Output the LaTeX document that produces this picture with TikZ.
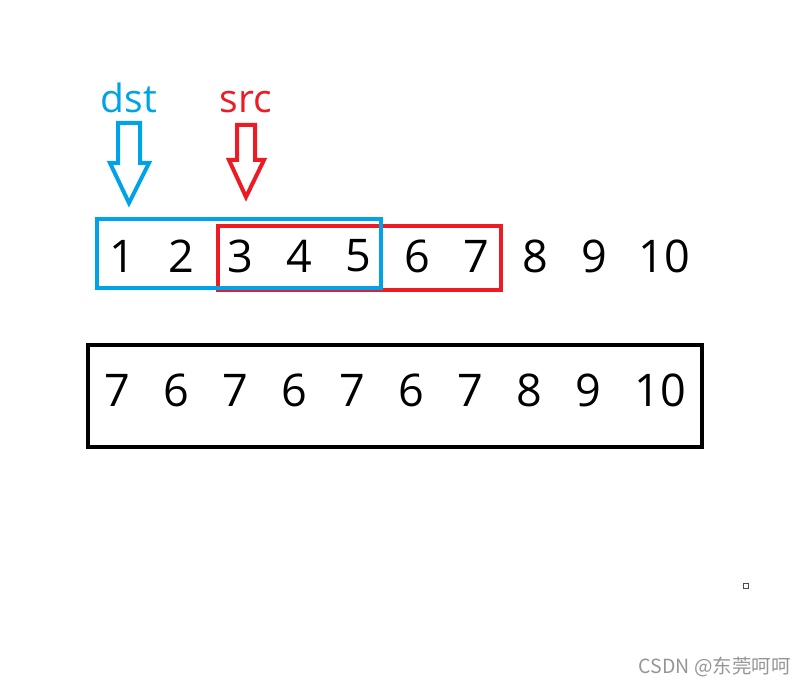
\documentclass[tikz,border=0pt]{standalone}
\usepackage{fontspec}
\setmainfont{Open Sans}
\newfontfamily\cjk{Noto Sans CJK SC}
\definecolor{myblue}{RGB}{0,162,232}
\definecolor{myred}{RGB}{237,28,36}
\definecolor{wmgray}{RGB}{150,150,150}
\begin{document}
\begin{tikzpicture}[x=1pt,y=-1pt,
  num/.style={inner sep=0pt,anchor=center,font=\fontsize{45}{50}\selectfont},
  lbl/.style={inner sep=0pt,anchor=base,font=\fontsize{39}{44}\selectfont},
  frame/.style={line width=4pt},
  arr/.style={line width=4pt,line join=miter}]
\useasboundingbox (0,0) rectangle (807,687);
% labels
\node[lbl,text=myblue] (dst) at (129,113) {dst};
\node[lbl,text=myred] (src) at (246,113) {src};
% arrows
\draw[arr,myblue] (118,123) -- (140,123) -- (140,163) -- (149,163) -- (129,203) -- (110,163) -- (118,163) -- cycle;
\draw[arr,myred] (237,125) -- (255,125) -- (255,160) -- (264,160) -- (246,197) -- (229,160) -- (237,160) -- cycle;
% row 1
\foreach \v/\x [count=\i] in {1/122,2/181,3/240,4/299,5/358,6/417,7/476,8/535,9/594,10/664}
  \node[num] (a\i) at (\x,256) {\v};
% boxes row 1
\draw[frame,myred] (218,226) rectangle (501,290);
\draw[frame,myblue] (97,219) rectangle (381,288);
% row 2
\foreach \v/\x [count=\i] in {7/117,6/176,7/235,6/294,7/352,6/411,7/470,8/529,9/588,10/660}
  \node[num] (b\i) at (\x,390) {\v};
\draw[frame,black] (88,345) rectangle (702,447);
% small square
\node[draw=black!70,line width=1pt,minimum size=5pt,inner sep=0pt] (sq) at (746,586) {};
% watermark
\node[anchor=east,inner sep=0pt,text=wmgray,font=\cjk\fontsize{19.5}{22}\selectfont] (wm) at (791,667) {CSDN @东莞呵呵};
\end{tikzpicture}
\end{document}
